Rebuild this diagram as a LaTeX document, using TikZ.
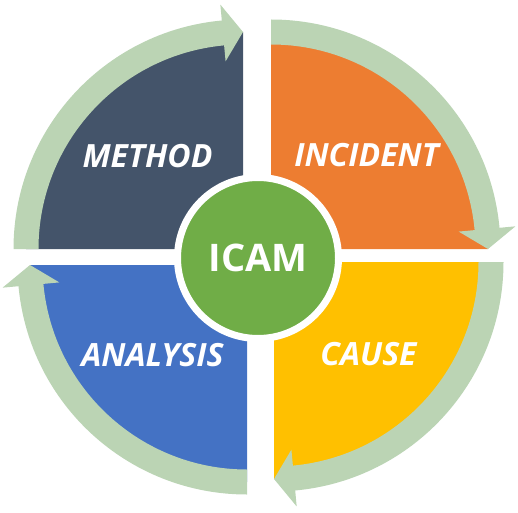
\documentclass[tikz,border=0pt]{standalone}
\usepackage{fontspec}
\setmainfont{Open Sans}
\usetikzlibrary{positioning}
\definecolor{icamslate}{RGB}{68,84,106}
\definecolor{icamorange}{RGB}{237,125,49}
\definecolor{icamgold}{RGB}{255,192,0}
\definecolor{icamblue}{RGB}{68,114,196}
\definecolor{icamgreen}{RGB}{112,173,71}
\definecolor{ringgreen}{RGB}{187,212,180}
\tikzset{
  ringarrow/.style={fill=ringgreen},
  qlabel/.style={text=white, inner sep=0pt,
                 font=\fontsize{32}{36}\selectfont\bfseries\itshape},
  hub/.style={circle, fill=icamgreen, draw=white, line width=7pt,
              minimum size=161pt, inner sep=0pt, text=white,
              font=\fontsize{38}{42}\selectfont\bfseries},
}
\begin{document}
\begin{tikzpicture}[x=1pt, y=1pt]
  \useasboundingbox (0,0) rectangle (518,512);
  % quarter discs with their ring arrows (clockwise)
  \foreach \cx/\cy/\sa/\col in {243/263/180/icamslate, 271/263/90/icamorange,
                                274/250/0/icamgold, 247/247/270/icamblue}{
    \begin{scope}[shift={(\cx,\cy)}]
      \pgfmathsetmacro\ea{\sa-90}
      \pgfmathsetmacro\ha{\ea+5.3}
      \fill[\col] (0,0) -- (\sa:217) arc[start angle=\sa, end angle=\ea, radius=217] -- cycle;
      \fill[ringarrow] (\sa:204.5) arc[start angle=\sa, end angle=\ha, radius=204.5]
        -- (\ha:188.5) -- (\ea:217) -- (\ha:245.5) -- (\ha:229.5)
        arc[start angle=\ha, end angle=\sa, radius=229.5] -- cycle;
    \end{scope}
  }
  \node[qlabel] (method)   at (147.5,355.5) {METHOD};
  \node[qlabel] (incident) at (366.5,357)   {INCIDENT};
  \node[qlabel] (cause)    at (368.5,158)   {CAUSE};
  \node[qlabel] (analysis) at (152.5,156.5) {ANALYSIS};
  \node[hub] (icam) at (258,254) {ICAM};
\end{tikzpicture}
\end{document}
